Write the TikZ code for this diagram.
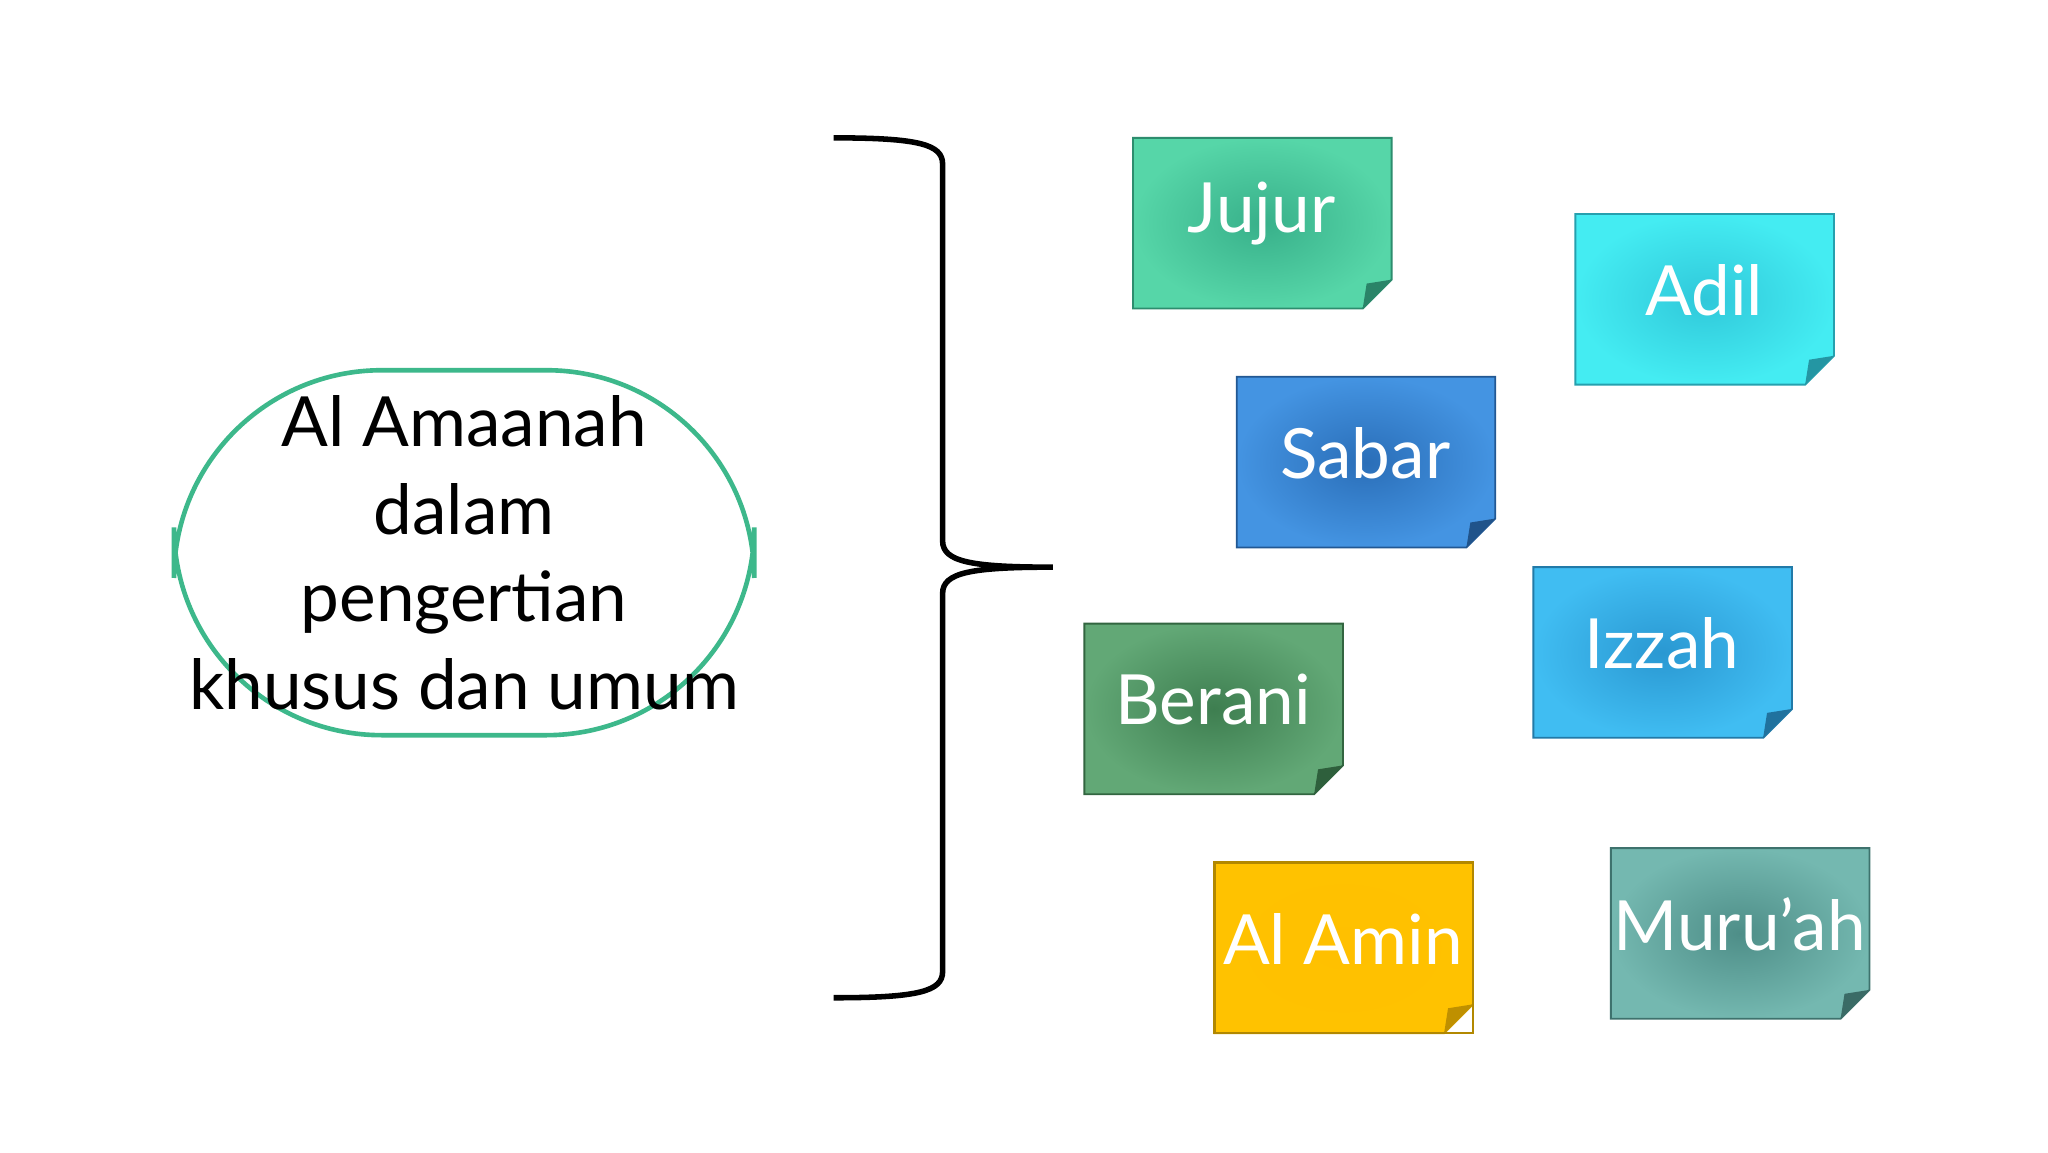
\documentclass[tikz,border=0pt]{standalone}
\usepackage{fontspec}
\setmainfont{Lato}
\begin{document}
\begin{tikzpicture}[x=0.01cm,y=-0.01cm]
\useasboundingbox[fill=white] (0,0) rectangle (1560,878);
\tikzset{notetext/.style={text=white,font=\fontsize{15}{18}\selectfont}}
\newcommand\stickynote[7]{% name,x,y,base,dark,text,textdy
  \shade[inner color=#5,outer color=#4,draw=#5!80!black,line width=0.4pt]
    (#2,#3) -- ++(197,0) -- ++(0,108) -- ++(-22,22) -- ++(-175,0) -- cycle;
  \fill[#5!75!black] (#2+197,#3+108) -- ++(-22,22) -- ++(3,-19) -- cycle;
  \node[notetext] (#1) at (#2+98,#3+#7) {#6};
}
\definecolor{jb}{HTML}{56D6A8}\definecolor{jd}{HTML}{38B08A}
\definecolor{ab}{HTML}{44ECF2}\definecolor{ad}{HTML}{30C8DA}
\definecolor{sb}{HTML}{4494E2}\definecolor{sd}{HTML}{2A6EB8}
\definecolor{bb}{HTML}{62A876}\definecolor{bd}{HTML}{3E7E50}
\definecolor{ib}{HTML}{40BDF2}\definecolor{id}{HTML}{2A98D2}
\definecolor{mb}{HTML}{FFC200}\definecolor{md}{HTML}{FFC000}
\definecolor{rb}{HTML}{74B8B0}\definecolor{rd}{HTML}{4E8E88}
\stickynote{jujur}{863}{105}{jb}{jd}{Jujur}{58}
\stickynote{adil}{1200}{163}{ab}{ad}{Adil}{58}
\stickynote{sabar}{942}{287}{sb}{sd}{Sabar}{58}
\stickynote{berani}{826}{475}{bb}{bd}{Berani}{58}
\stickynote{izzah}{1168}{432}{ib}{id}{Izzah}{58}
\stickynote{alamin}{925}{657}{mb}{md}{Al Amin}{58}
\stickynote{muruah}{1227}{646}{rb}{rd}{Muru’ah}{58}
\draw[draw=mb!70!black,line width=0.5pt] (925,657) rectangle (1122,787);
\draw[line width=1.2pt] (635,105) .. controls (700,105) and (718,110) .. (718,125)
  -- (718,412) .. controls (718,428) and (740,432) .. (802,432)
  .. controls (740,432) and (718,436) .. (718,452)
  -- (718,740) .. controls (718,755) and (700,760) .. (635,760);
\node[draw={rgb,255:red,61;green,184;blue,139},line width=1pt,rounded corners=45,
  minimum width=415*0.01cm,minimum height=278*0.01cm,align=center,
  font=\fontsize{15}{19}\selectfont] (main) at (353.5,421)
  {Al Amaanah\\dalam\\pengertian\\khusus dan umum};
\end{tikzpicture}
\end{document}
